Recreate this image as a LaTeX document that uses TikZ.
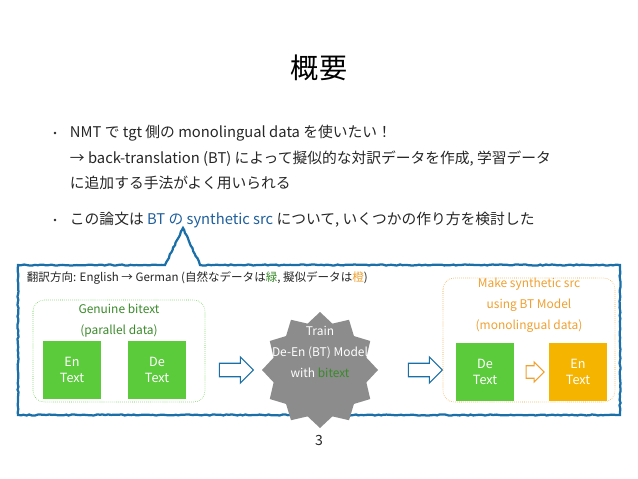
\documentclass[tikz,border=0pt]{standalone}
\usepackage{fontspec}
\setmainfont{Noto Sans CJK JP}
\usetikzlibrary{shapes.arrows,decorations.pathmorphing}
\definecolor{gtext}{HTML}{5BCB3C}
\definecolor{otext}{HTML}{F5B400}
\definecolor{callblue}{HTML}{1B6FA8}
\definecolor{btblue}{HTML}{1F5F9E}
\definecolor{dgreen}{HTML}{3A8A2A}
\definecolor{ltorange}{HTML}{F0A030}
\tikzset{
  bullet/.style={anchor=west,font=\fontsize{10.5}{13}\selectfont,text=black!85},
  databox/.style={minimum width=1.45cm,minimum height=1.45cm,text=white,align=center,font=\fontsize{9}{12}\selectfont},
  hollow/.style={single arrow,draw=callblue,fill=white,thick,minimum height=0.85cm,minimum width=0.65cm,single arrow head extend=0.12cm},
}
\begin{document}
\begin{tikzpicture}[x=0.025cm,y=-0.025cm]
	\useasboundingbox (0,0) rectangle (638,479);

	\node (title) at (319,68) {\fontsize{20}{24}\selectfont 概要};

	\node[bullet] (b1) at (65,133) {NMT で tgt 側の monolingual data を使いたい！};
	\node[bullet] (b1a) at (65,159) {→ back-translation (BT) によって擬似的な対訳データを作成, 学習データ};
	\node[bullet] (b1b) at (65,183) {に追加する手法がよく用いられる};
	\node[bullet] (b2) at (65,220) {この論文は \textcolor{btblue}{BT の synthetic src} について, いくつかの作り方を検討した};
	\fill[black!85] (55,133) circle (1.3) (55,220) circle (1.3);

	% callout
	\draw[callblue,line width=1.6pt,fill=white,
	  decorate,decoration={random steps,segment length=2pt,amplitude=0.4pt}]
	  (18,265) -- (165,265) -- (183,228) -- (200,265) -- (620,265) -- (620,415) -- (18,415) -- cycle;

	\node[anchor=west,font=\fontsize{8.2}{10}\selectfont,text=black!85] (head) at (22,278)
	  {翻訳方向: English → German (自然なデータは\textcolor{dgreen}{緑}, 擬似データは\textcolor{ltorange}{橙})};

	% genuine bitext
	\draw[gtext,densely dotted,rounded corners=8pt] (33,300) rectangle (205,402);
	\node[text=dgreen,align=center,font=\fontsize{8.5}{15}\selectfont] (gen) at (119,321) {Genuine bitext\\(parallel data)};
	\node[databox,fill=gtext] (en1) at (72,370) {En\\Text};
	\node[databox,fill=gtext] (de1) at (157,370) {De\\Text};

	% BT model
	\fill[black!45] plot[samples at={0,15,...,345},variable=\t] ({320+(mod(\t,30)==0 ? 58 : 48)*cos(\t)},{370+(mod(\t,30)==0 ? 58 : 48)*sin(\t)}) -- cycle;
	\node[text=white,align=center,font=\fontsize{8.5}{15}\selectfont] (bt) at (320,352) {Train\\De-En (BT) Model\\with \textcolor{dgreen}{bitext}};

	\node[hollow] (arr1) at (233,370) {};
	\node[hollow] (arr2) at (422,370) {};

	% synthetic src
	\draw[ltorange,densely dotted,rounded corners=8pt] (443,278) rectangle (615,402);
	\node[text=ltorange,align=center,font=\fontsize{8.5}{15}\selectfont] (make) at (529,305) {Make synthetic src\\using BT Model\\(monolingual data)};
	\node[databox,fill=gtext] (de2) at (485,372) {De\\Text};
	\node[databox,fill=otext] (en2) at (578,372) {En\\Text};
	\node[single arrow,draw=ltorange,fill=white,thick,minimum height=0.45cm,minimum width=0.5cm,single arrow head extend=0.08cm] (arr3) at (532,372) {};

	\node[text=black!85,font=\fontsize{10}{12}\selectfont] (page) at (319,440) {3};
\end{tikzpicture}
\end{document}
